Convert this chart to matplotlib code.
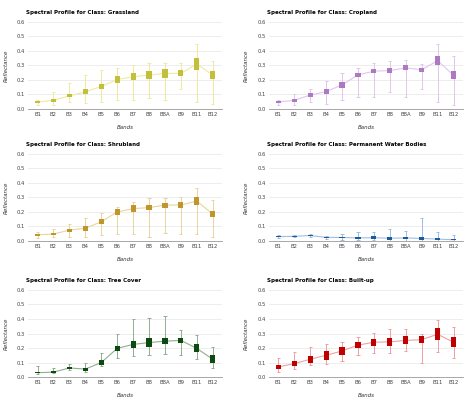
import matplotlib
matplotlib.use("Agg")
import matplotlib.pyplot as plt
import numpy as np

bands = ["B1","B2","B3","B4","B5","B6","B7","B8","B8A","B9","B11","B12"]

grass_lo = [.03,.03,.045,.04,.045,.06,.065,.075,.06,.14,.05,.035]
grass_q1 = [.04,.05,.08,.10,.135,.18,.20,.205,.215,.225,.27,.205]
grass_q3 = [.055,.07,.10,.135,.175,.225,.245,.26,.275,.265,.35,.26]
grass_hi = [.065,.12,.18,.235,.265,.285,.30,.32,.32,.315,.45,.33]

crop_lo = [.03,.03,.045,.035,.065,.085,.085,.115,.085,.14,.045,.025]
crop_q1 = [.04,.05,.08,.10,.145,.22,.245,.245,.265,.255,.30,.205]
crop_q3 = [.055,.07,.11,.14,.185,.25,.275,.285,.30,.285,.365,.26]
crop_hi = [.065,.10,.14,.195,.245,.28,.315,.33,.335,.31,.45,.365]

shrub_lo = [.02,.025,.03,.025,.04,.045,.05,.03,.055,.05,.045,.03]
shrub_q1 = [.035,.04,.065,.07,.115,.18,.20,.21,.23,.225,.25,.165]
shrub_q3 = [.05,.055,.085,.105,.15,.22,.245,.25,.265,.27,.30,.205]
shrub_hi = [.065,.085,.12,.16,.195,.235,.27,.295,.295,.30,.365,.285]

water_lo = [.02,.025,.03,.015,.01,.005,.005,.003,.003,.002,.001,.001]
water_q1 = [.025,.028,.033,.02,.018,.013,.013,.01,.012,.005,.006,.004]
water_q3 = [.035,.036,.042,.03,.03,.03,.032,.028,.03,.03,.02,.013]
water_hi = [.04,.04,.045,.035,.05,.06,.065,.08,.07,.155,.06,.038]

tree_lo = [.02,.025,.05,.035,.075,.13,.145,.155,.16,.155,.125,.06]
tree_q1 = [.025,.028,.055,.045,.085,.18,.20,.205,.225,.235,.17,.095]
tree_q3 = [.035,.04,.07,.065,.115,.215,.25,.27,.27,.27,.225,.15]
tree_hi = [.075,.065,.09,.10,.165,.295,.40,.405,.42,.325,.29,.21]

built_lo = [.035,.055,.08,.09,.11,.155,.165,.165,.18,.10,.17,.13]
built_q1 = [.055,.075,.10,.12,.155,.20,.215,.215,.225,.235,.255,.205]
built_q3 = [.085,.11,.145,.18,.205,.24,.265,.27,.28,.28,.335,.275]
built_hi = [.13,.17,.205,.225,.24,.275,.305,.33,.33,.30,.395,.345]

panels = [
    ("Grassland", grass_lo, grass_q1, grass_q3, grass_hi, "#c2c03a", "#eeeaa0"),
    ("Cropland", crop_lo, crop_q1, crop_q3, crop_hi, "#ad78c4", "#e2c6ec"),
    ("Shrubland", shrub_lo, shrub_q1, shrub_q3, shrub_hi, "#c0962a", "#e8d49c"),
    ("Permanent Water Bodies", water_lo, water_q1, water_q3, water_hi, "#1c5aa0", "#9fbfe0"),
    ("Tree Cover", tree_lo, tree_q1, tree_q3, tree_hi, "#0d4a10", "#8fae8f"),
    ("Built-up", built_lo, built_q1, built_q3, built_hi, "#c00000", "#f0a0a0"),
]

fig = plt.figure(figsize=(4.74, 4.05), dpi=100)
lefts = [0.059, 0.567]
bottoms = [0.731, 0.405, 0.069]
for i, (name, lo, q1, q3, hi, c, lc) in enumerate(panels):
    ax = fig.add_axes([lefts[i % 2], bottoms[i // 2], 0.41, 0.215])
    x = np.arange(len(bands))
    lo, q1, q3, hi = map(np.array, (lo, q1, q3, hi))
    mid = (q1 + q3) / 2
    ax.plot(x, mid, color=lc, lw=0.8, zorder=2)
    ax.vlines(x, lo, hi, color=lc, lw=0.7, zorder=2)
    ax.hlines(lo, x - 0.1, x + 0.1, color=lc, lw=0.7, zorder=2)
    ax.hlines(hi, x - 0.1, x + 0.1, color=lc, lw=0.7, zorder=2)
    ax.bar(x, q3 - q1, bottom=q1, width=0.32, color=c, zorder=3)
    ax.set_ylim(0, 0.6)
    ax.set_xlim(-0.6, len(bands) - 0.4)
    ax.set_yticks(np.arange(0, 0.61, 0.1))
    ax.set_yticklabels([f"{v:.1f}" for v in np.arange(0, 0.61, 0.1)])
    ax.set_xticks(x)
    ax.set_xticklabels(bands)
    ax.tick_params(labelsize=3.8, length=0, pad=2, colors="#444444")
    ax.grid(axis="y", color="#e6e6e6", lw=0.5)
    ax.set_axisbelow(True)
    for s in ["top", "right", "left"]:
        ax.spines[s].set_visible(False)
    ax.spines["bottom"].set_color("#999999")
    ax.spines["bottom"].set_linewidth(0.6)
    ax.set_xlabel("Bands", fontsize=4, style="italic", color="#333333", labelpad=6)
    ax.set_ylabel("Reflectance", fontsize=4, style="italic", color="#333333", labelpad=6)
    ax.set_title(f"Spectral Profile for Class: {name}", fontsize=4, fontweight="bold",
                 loc="left", x=-0.01, pad=6)

fig.savefig("out.png", dpi=100, facecolor="white")
